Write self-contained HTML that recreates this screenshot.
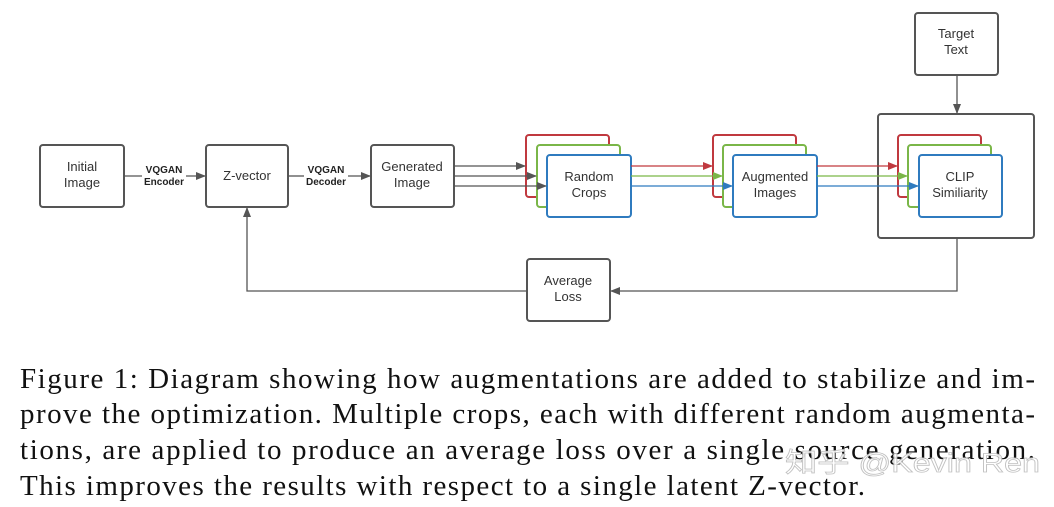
<!DOCTYPE html>
<html><head><meta charset="utf-8"><style>
body{margin:0;width:1054px;height:507px;background:#fff;overflow:hidden}
svg{display:block}
.b{font-family:"Liberation Sans",sans-serif;font-size:13px;fill:#333;text-anchor:middle}
.s{font-family:"Liberation Sans",sans-serif;font-size:10px;font-weight:bold;fill:#222;text-anchor:middle}
.c{font-family:"Liberation Serif",serif;font-size:29px;fill:#111}
</style></head><body>
<svg width="1054" height="507" viewBox="0 0 1054 507">
<defs>
<marker id="ag" markerWidth="10" markerHeight="8" refX="9" refY="4" orient="auto" markerUnits="userSpaceOnUse"><path d="M0,0L10,4L0,8z" fill="#555"/></marker>
<marker id="ar" markerWidth="10" markerHeight="8" refX="9" refY="4" orient="auto" markerUnits="userSpaceOnUse"><path d="M0,0L10,4L0,8z" fill="#c0393f"/></marker>
<marker id="agr" markerWidth="10" markerHeight="8" refX="9" refY="4" orient="auto" markerUnits="userSpaceOnUse"><path d="M0,0L10,4L0,8z" fill="#7ab648"/></marker>
<marker id="ab" markerWidth="10" markerHeight="8" refX="9" refY="4" orient="auto" markerUnits="userSpaceOnUse"><path d="M0,0L10,4L0,8z" fill="#2f7bbf"/></marker>
</defs>
<g fill="#fff" stroke="#555" stroke-width="2">
<rect x="40" y="145" width="84" height="62" rx="3"/>
<rect x="206" y="145" width="82" height="62" rx="3"/>
<rect x="371" y="145" width="83" height="62" rx="3"/>
<rect x="915" y="13" width="83" height="62" rx="3"/>
<rect x="527" y="259" width="83" height="62" rx="3"/>
<rect x="878" y="114" width="156" height="124" rx="3"/>
</g>
<g fill="#fff" stroke-width="2">
<rect x="526" y="135" width="83" height="62" rx="3" stroke="#c0393f"/>
<rect x="537" y="145" width="83" height="62" rx="3" stroke="#7ab648"/>
<rect x="547" y="155" width="84" height="62" rx="3" stroke="#2f7bbf"/>
<rect x="713" y="135" width="83" height="62" rx="3" stroke="#c0393f"/>
<rect x="723" y="145" width="83" height="62" rx="3" stroke="#7ab648"/>
<rect x="733" y="155" width="84" height="62" rx="3" stroke="#2f7bbf"/>
<rect x="898" y="135" width="83" height="62" rx="3" stroke="#c0393f"/>
<rect x="908" y="145" width="83" height="62" rx="3" stroke="#7ab648"/>
<rect x="919" y="155" width="83" height="62" rx="3" stroke="#2f7bbf"/>
</g>
<g stroke="#555" stroke-width="1.3" fill="none">
<line x1="124" y1="176" x2="142" y2="176"/><line x1="186" y1="176" x2="205" y2="176" marker-end="url(#ag)"/>
<line x1="288" y1="176" x2="304" y2="176"/><line x1="348" y1="176" x2="370" y2="176" marker-end="url(#ag)"/>
<line x1="454" y1="166" x2="525" y2="166" marker-end="url(#ag)"/>
<line x1="454" y1="176" x2="536" y2="176" marker-end="url(#ag)"/>
<line x1="454" y1="186" x2="546" y2="186" marker-end="url(#ag)"/>
<line x1="957" y1="75" x2="957" y2="113" marker-end="url(#ag)"/>
<polyline points="957,238 957,291 611,291" marker-end="url(#ag)"/>
<polyline points="527,291 247,291 247,208" marker-end="url(#ag)"/>
</g>
<g stroke-width="1.3">
<line x1="631" y1="166" x2="712" y2="166" stroke="#c0393f" marker-end="url(#ar)"/>
<line x1="631" y1="176" x2="722" y2="176" stroke="#7ab648" marker-end="url(#agr)"/>
<line x1="631" y1="186" x2="732" y2="186" stroke="#2f7bbf" marker-end="url(#ab)"/>
<line x1="817" y1="166" x2="897" y2="166" stroke="#c0393f" marker-end="url(#ar)"/>
<line x1="817" y1="176" x2="907" y2="176" stroke="#7ab648" marker-end="url(#agr)"/>
<line x1="817" y1="186" x2="918" y2="186" stroke="#2f7bbf" marker-end="url(#ab)"/>
</g>
<text class="b" x="82" y="171">Initial</text><text class="b" x="82" y="187">Image</text>
<text class="b" x="247" y="180">Z-vector</text>
<text class="b" x="412" y="171">Generated</text><text class="b" x="412" y="187">Image</text>
<text class="b" x="589" y="181">Random</text><text class="b" x="589" y="197">Crops</text>
<text class="b" x="775" y="181">Augmented</text><text class="b" x="775" y="197">Images</text>
<text class="b" x="960" y="181">CLIP</text><text class="b" x="960" y="197">Similiarity</text>
<text class="b" x="956" y="38">Target</text><text class="b" x="956" y="54">Text</text>
<text class="b" x="568" y="285">Average</text><text class="b" x="568" y="301">Loss</text>
<text class="s" x="164" y="173">VQGAN</text><text class="s" x="164" y="185">Encoder</text>
<text class="s" x="326" y="173">VQGAN</text><text class="s" x="326" y="185">Decoder</text>
<text class="c" x="20" y="388" textLength="1015" lengthAdjust="spacing">Figure 1: Diagram showing how augmentations are added to stabilize and im-</text>
<text class="c" x="20" y="423" textLength="1015" lengthAdjust="spacing">prove the optimization. Multiple crops, each with different random augmenta-</text>
<text class="c" x="20" y="459" textLength="1015" lengthAdjust="spacing">tions, are applied to produce an average loss over a single source generation.</text>
<text class="c" x="20" y="495" textLength="845" lengthAdjust="spacing">This improves the results with respect to a single latent Z-vector.</text>
<text x="785" y="472" textLength="255" lengthAdjust="spacingAndGlyphs" font-family="'Liberation Sans','Noto Sans CJK SC',sans-serif" font-size="27" fill="#fff" stroke="#bbb" stroke-width="0.8" opacity="0.9">知乎 @Kevin Ren</text>
</svg>
</body></html>
